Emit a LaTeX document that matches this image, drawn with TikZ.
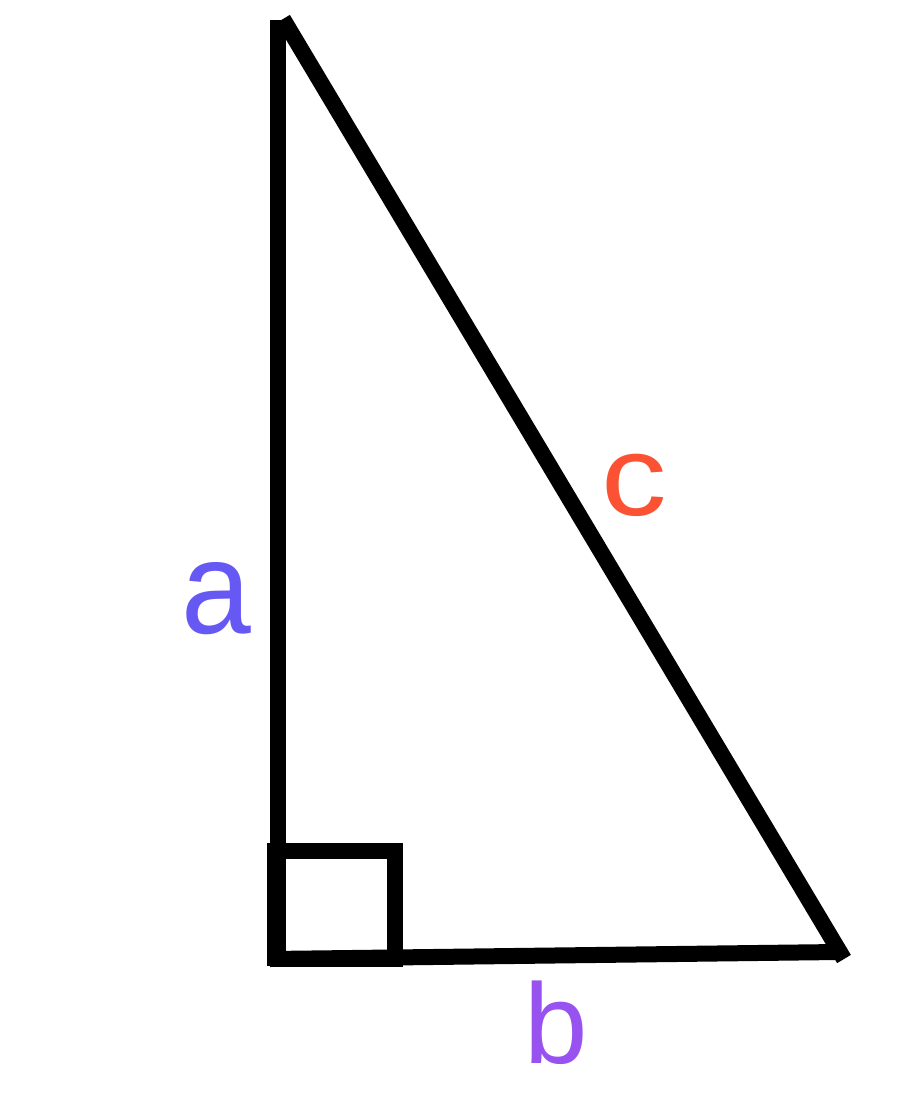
\documentclass[tikz,border=0pt]{standalone}
\usepackage{fontspec}
\setmainfont{Liberation Sans}
\usepackage{xcolor}
\definecolor{cblue}{RGB}{102,88,243}
\definecolor{cred}{RGB}{252,82,52}
\definecolor{cpurple}{RGB}{152,82,240}

\begin{document}
\begin{tikzpicture}[x=0.5pt, y=-0.5pt]
		\def\xleft{0}
		\def\xright{924}
		\def\yup{0}
		\def\ydown{1102}
		\def\lwid{8pt}
		\draw[draw=none, use as bounding box] (\xleft, \yup) rectangle (\xright, \ydown);

		% Corners
		\coordinate (top) at (278, 20);
		\coordinate (corner) at (278, 966);
		\coordinate (base) at (270, 959);
		\coordinate (right) at (838, 952);
		\coordinate (hypA) at (283, 19);
		\coordinate (hypB) at (844, 959);
		\coordinate (sqA) at (278, 959);
		\coordinate (sqB) at (395, 851);
		\coordinate (sqL) at (272, 843);

		% Triangle
		\draw[line width=\lwid, black] (top) -- (corner);
		\draw[line width=\lwid, black] (base) -- (right);
		\draw[line width=\lwid, black] (hypA) -- (hypB);

		% Right angle
		\draw[line width=\lwid, black, line join=miter] (sqA) rectangle (sqB);
		\draw[line width=5pt, black] (sqL) -- (sqL |- corner);

		% Labels
		\node[text=cblue, font=\fontsize{66}{66}\selectfont, inner sep=0pt, xscale=0.95] (lblA) at (216, 599) {a};
		\node[text=cred, font=\fontsize{57}{57}\selectfont, inner sep=0pt, xscale=1.15] (lblC) at (634, 485) {c};
		\node[text=cpurple, font=\fontsize{57}{57}\selectfont, inner sep=0pt] (lblB) at (556, 1023) {b};

	\end{tikzpicture}
\end{document}
